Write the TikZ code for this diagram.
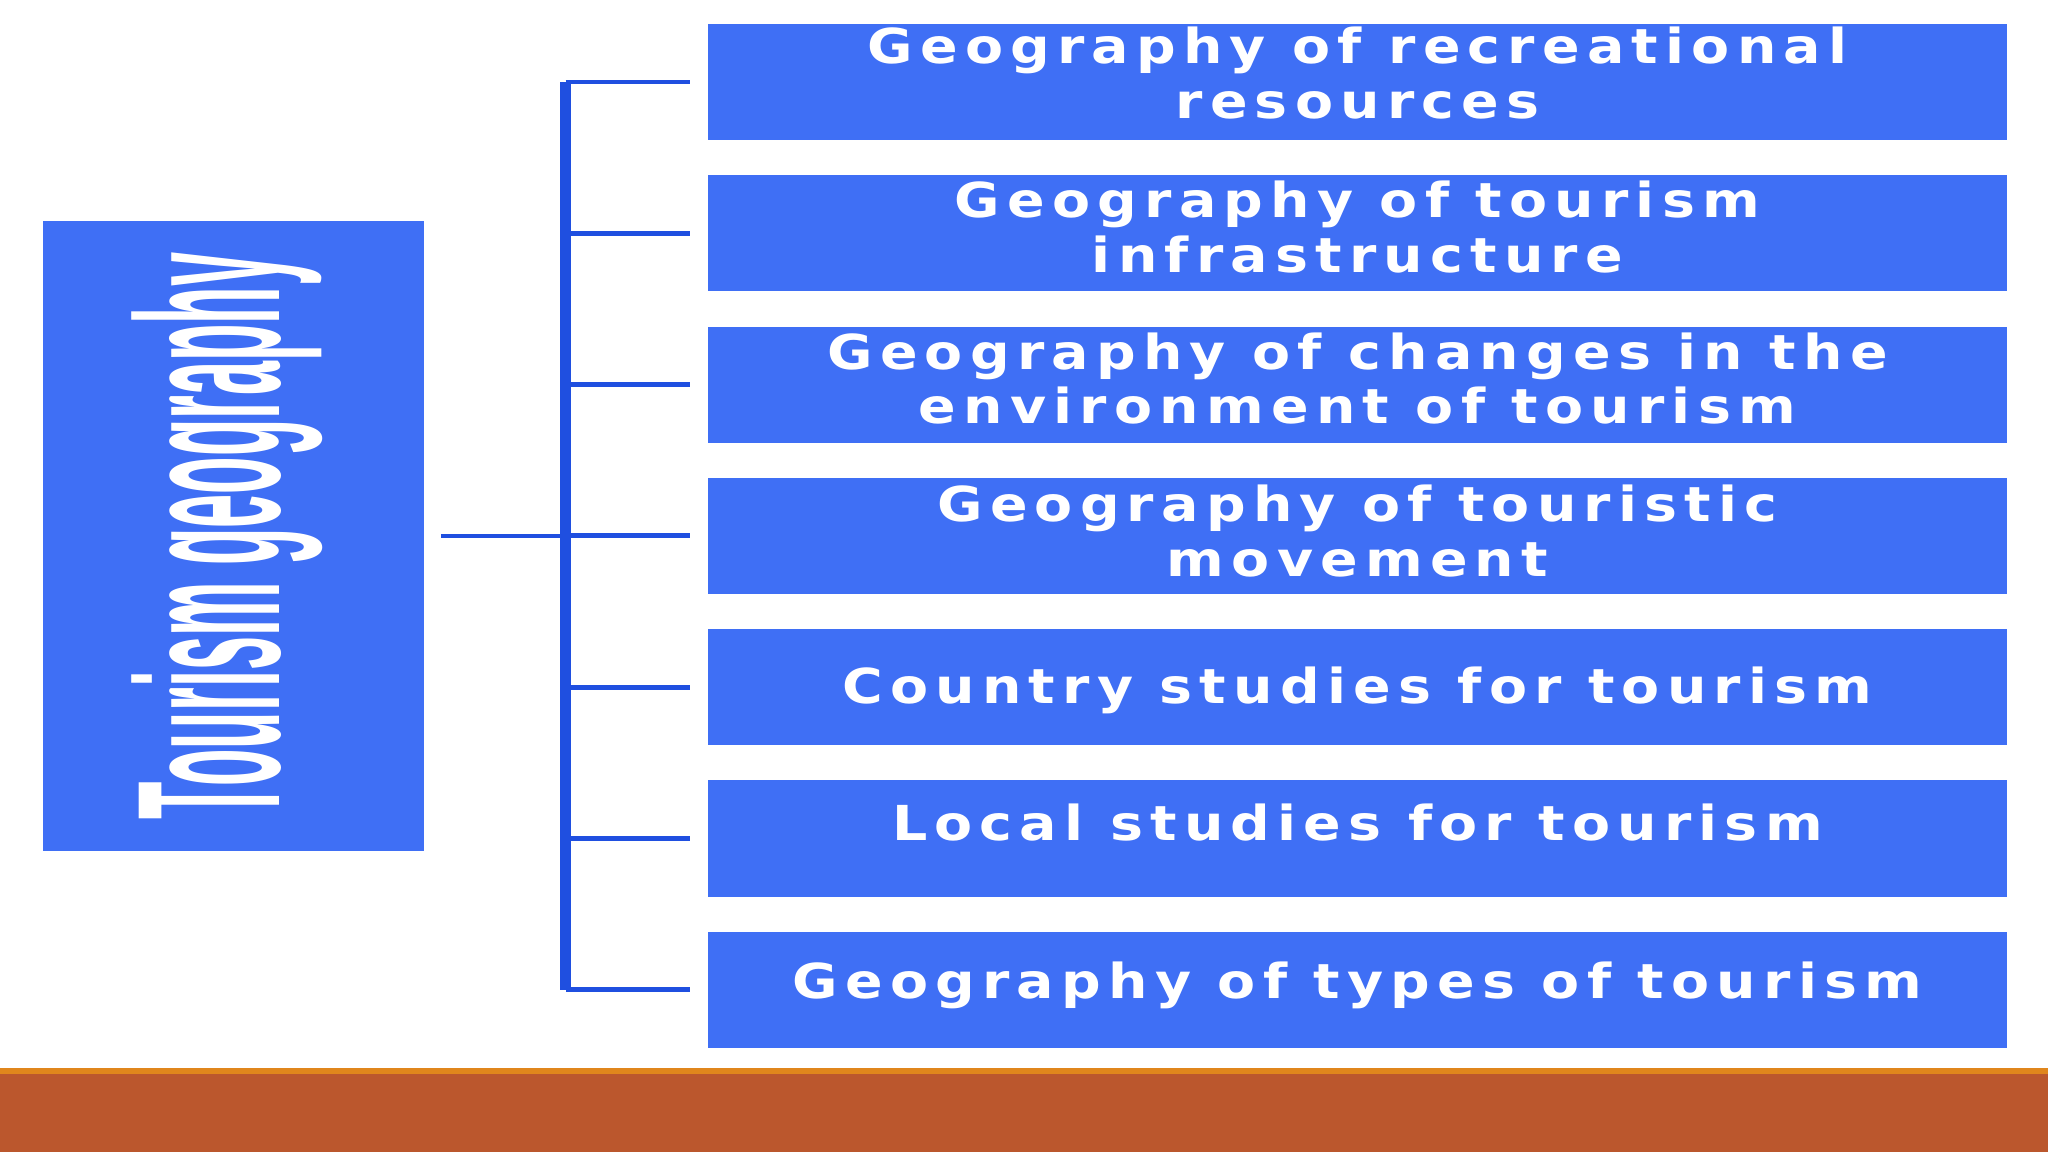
\documentclass[tikz,border=0pt]{standalone}
\usepackage{fontspec}
\usepackage{graphicx}
\newfontfamily\boxfont[LetterSpace=15,FakeStretch=1.15]{DejaVu Sans}
\newfontfamily\titlefont{Liberation Sans}
\definecolor{boxblue}{HTML}{3F6FF5}
\definecolor{lineblue}{HTML}{1F4FE0}
\definecolor{bandbrown}{HTML}{BB572D}
\definecolor{bandorange}{HTML}{E0861C}
\tikzset{
  topic/.style={fill=boxblue, minimum width=12.99cm, minimum height=1.16cm, inner sep=0},
  topictext/.style={text=white, inner sep=0, align=center,
    font={\boxfont\bfseries\fontsize{13.7}{15.6}\selectfont}},
  stub/.style={draw=lineblue, line width=1.4pt, shorten >=0.17cm},
  bar/.style={draw=lineblue, line width=2.9pt}
}
\begin{document}
\begin{tikzpicture}[x=0.01cm,y=-0.01cm]
\useasboundingbox (0,0) rectangle (2048,1152);
\fill [white] (0,0) rectangle (2048,1152);

% bottom band
\fill [bandbrown] (0,1068) rectangle (2048,1152);
\fill [bandorange] (0,1068) rectangle (2048,1074);

% main box
\node [fill=boxblue, minimum width=3.81cm, minimum height=6.30cm, inner sep=0] (main) at (233.5,536) {};
\node [text=white, rotate=90, inner sep=0] (title) at ([xshift=-0.06cm]main.center)
  {\scalebox{0.30}[1]{\titlefont\bfseries\fontsize{58}{60}\selectfont Tourism geography}};

% branches
\node [topic] (g1) at (1357.5,82) {};
\node [topic] (g2) at (1357.5,233.3) {};
\node [topic] (g3) at (1357.5,384.6) {};
\node [topic] (g4) at (1357.5,535.9) {};
\node [topic] (g5) at (1357.5,687.2) {};
\node [topic] (g6) at (1357.5,838.5) {};
\node [topic] (g7) at (1357.5,989.8) {};

\node [topictext] (t1) at ([yshift=0.09cm]g1.center) {Geography of recreational\\resources};
\node [topictext] (t2) at ([yshift=0.06cm]g2.center) {Geography of tourism\\infrastructure};
\node [topictext] (t3) at ([yshift=0.06cm]g3.center) {Geography of changes in the\\environment of tourism};
\node [topictext] (t4) at ([yshift=0.05cm]g4.center) {Geography of touristic\\movement};
\node [topictext] (t5) at ([yshift=-0.03cm]g5.center) {Country studies for tourism};
\node [topictext] (t6) at ([yshift=0.16cm]g6.center) {Local studies for tourism};
\node [topictext] (t7) at ([yshift=0.04cm]g7.center) {Geography of types of tourism};

\coordinate (hub) at (565.5,536);
\draw [bar] (hub |- g1) -- (hub |- g7);
\draw [stub, shorten <=0.16cm, shorten >=0cm] (main.east) -- (hub);
\draw [stub] (hub |- g1) -- (g1.west);
\draw [stub] (hub |- g2) -- (g2.west);
\draw [stub] (hub |- g3) -- (g3.west);
\draw [stub] (hub |- g4) -- (g4.west);
\draw [stub] (hub |- g5) -- (g5.west);
\draw [stub] (hub |- g6) -- (g6.west);
\draw [stub] (hub |- g7) -- (g7.west);
\end{tikzpicture}
\end{document}
